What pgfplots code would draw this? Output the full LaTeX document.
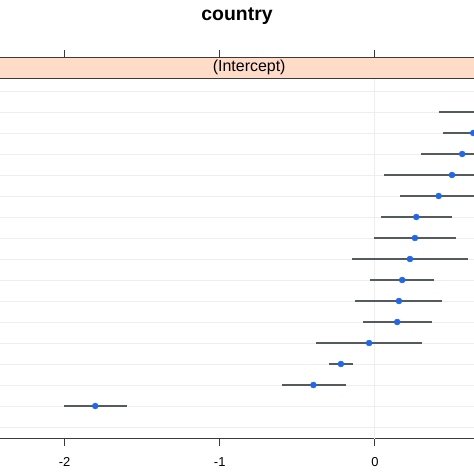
\documentclass[border=0pt]{standalone}
\usepackage{fontspec}
\setmainfont{Liberation Sans}
\usepackage{pgfplots}
\usepackage{pgfplotstable}
\pgfplotsset{compat=1.18}

\definecolor{dotblue}{HTML}{1F66F0}
\definecolor{barcol}{HTML}{555A5E}
\definecolor{stripcol}{HTML}{FFDCC8}
\definecolor{framecol}{HTML}{3A3A3A}
\definecolor{gridcol}{HTML}{EEEEEE}

% random intercepts by country: row, estimate, lower, upper
\pgfplotstableread{
row est lo hi
1 -2.80 -3.00 -2.60
2 -1.802 -2.005 -1.595
3 -0.396 -0.596 -0.189
4 -0.219 -0.295 -0.140
5 -0.037 -0.378 0.305
6 0.144 -0.079 0.370
7 0.155 -0.127 0.434
8 0.176 -0.032 0.383
9 0.226 -0.150 0.600
10 0.258 -0.004 0.525
11 0.267 0.037 0.499
12 0.411 0.159 0.660
13 0.497 0.060 0.930
14 0.563 0.297 0.830
15 0.634 0.437 0.830
16 0.700 0.413 0.990
17 0.900 0.660 1.140
}\countrydata

\begin{document}
\begin{tikzpicture}
\begin{axis}[
  at={(0,35.3bp)}, anchor=south west,
  scale only axis, width=474bp, height=381.4bp,
  xmin=-2.416, xmax=0.639, ymin=0.443, ymax=18.605,
  separate axis lines,
  x axis line style={framecol, line width=1.2bp},
  y axis line style={draw=none},
  xtick={-2,-1,0}, xticklabels={-2,-1,0},
  tick align=outside, xtick pos=both,
  major tick length=7bp,
  xtick style={framecol, line width=1.2bp},
  ytick style={draw=none},
  xticklabel style={font=\fontsize{13}{15}\selectfont, yshift=-8bp},
  /pgf/number format/assume math mode=true,
  ytick={1,...,17}, yticklabels={},
  ymajorgrids, grid style={gridcol, line width=1bp},
  title={\bfseries country},
  title style={font=\fontsize{19.5}{22}\selectfont, at={(0.5,1)}, anchor=center, yshift=35bp},
  clip=true,
]
\draw[gridcol, line width=1bp] (axis cs:0,0.443) -- (axis cs:0,17.605);
\addplot[only marks, mark=*, mark size=3bp,
  mark options={fill=dotblue, draw=dotblue},
  error bars/.cd, x dir=both, x explicit, error mark=none,
  error bar style={barcol, line width=2bp}]
  table[x=est, y=row,
        x error minus expr=\thisrow{est}-\thisrow{lo},
        x error plus expr=\thisrow{hi}-\thisrow{est}] {\countrydata};
\draw[fill=stripcol, draw=framecol, line width=1.2bp]
  (axis cs:-3,17.605) rectangle (axis cs:1,18.605);
\node[font=\fontsize{16}{18}\selectfont] at (axis cs:-0.81,18.105) {(Intercept)};
\end{axis}
\pgfresetboundingbox
\path[use as bounding box] (0,0) rectangle (474bp,474bp);
\end{tikzpicture}
\end{document}
